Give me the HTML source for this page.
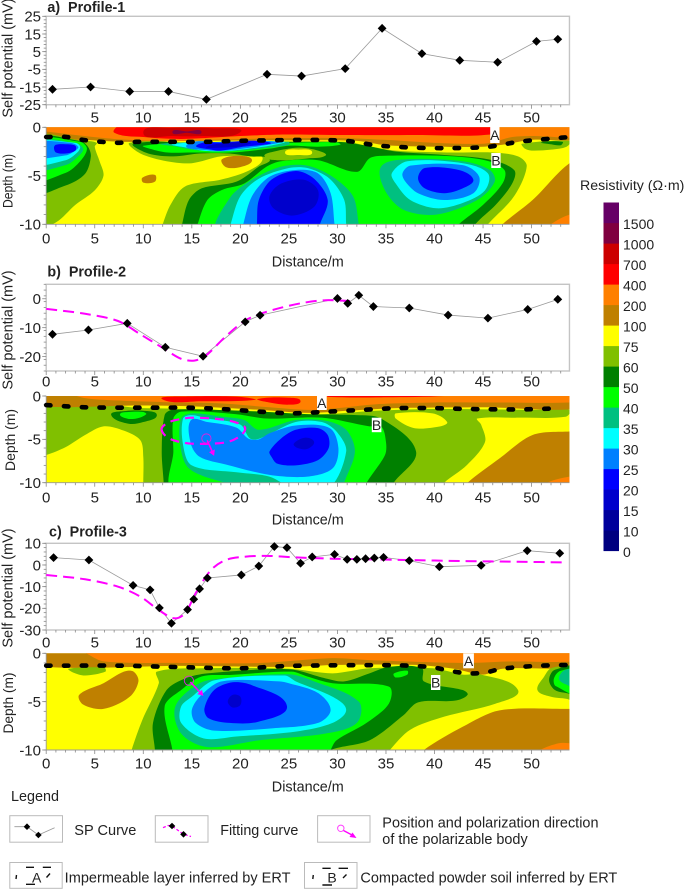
<!DOCTYPE html>
<html lang="en">
<head>
<meta charset="utf-8">
<title>Self potential and resistivity profiles</title>
<style>
html,body{margin:0;padding:0;background:#fff;}
body{width:685px;height:889px;overflow:hidden;}
svg{display:block;}
text{font-family:"Liberation Sans","DejaVu Sans",sans-serif;fill:#222;}
</style>
</head>
<body>
<svg id="figure" xmlns="http://www.w3.org/2000/svg" width="685" height="889" viewBox="0 0 685 889">
  <g id="charts"></g>
  <g id="colorbar"></g>
  <g>
    <text x="11" y="801" font-size="14.5" textLength="48" lengthAdjust="spacingAndGlyphs">Legend</text>
    <rect x="9.8" y="815.7" width="52.7" height="26.5" fill="#fff" stroke="#bbb"/>
    <polyline points="14.4,826.7 27,826.7 38.4,835 54.6,827.7" fill="none" stroke="#999" stroke-width="0.8"/>
    <polygon points="27,823.4 30.3,826.7 27,830 23.7,826.7" fill="#000"/>
    <polygon points="38.4,831.7 41.7,835 38.4,838.3 35.1,835" fill="#000"/>
    <text x="74.3" y="835" font-size="14.5" textLength="62" lengthAdjust="spacingAndGlyphs">SP Curve</text>
    <rect x="155.3" y="815.7" width="52.7" height="26.5" fill="#fff" stroke="#bbb"/>
    <polyline points="163,827.7 168,825.5 172,826 183.5,834.3 191,836.5" fill="none" stroke="#ff00ff" stroke-width="1.3" stroke-dasharray="3 2"/>
    <polygon points="172,822.7 175.3,826 172,829.3 168.7,826" fill="#000"/>
    <polygon points="183.5,831 186.8,834.3 183.5,837.6 180.2,834.3" fill="#000"/>
    <text x="220.2" y="835" font-size="14.5" textLength="78.2" lengthAdjust="spacingAndGlyphs">Fitting curve</text>
    <rect x="317.6" y="815.7" width="52.4" height="26.5" fill="#fff" stroke="#bbb"/>
    <circle cx="340.8" cy="828.3" r="3.2" fill="none" stroke="#ff40ff" stroke-width="1"/>
    <line x1="343.5" y1="830.5" x2="352" y2="835" stroke="#ff00ff" stroke-width="1.3"/>
    <polygon points="356.5,838 349.5,837 352.5,832.5" fill="#ff00ff"/>
    <text x="382.3" y="827.5" font-size="14.5" textLength="216.2" lengthAdjust="spacingAndGlyphs">Position and polarization direction</text>
    <text x="382.3" y="844" font-size="14.5" textLength="145.4" lengthAdjust="spacingAndGlyphs">of the polarizable body</text>
    <rect x="9.8" y="862.5" width="52.4" height="25.8" fill="#fff" stroke="#bbb"/>
    <path d="M16.5 875 L16 879 M26 867.3 L34 867.3 M42.8 867.3 L51 867.3 M46.5 877.5 L50 873.5 M26 884.3 L35 884.3" fill="none" stroke="#111" stroke-width="1.4"/>
    <text x="36.7" y="882.5" font-size="14" text-anchor="middle">A</text>
    <text x="64.7" y="882.5" font-size="14.5" textLength="225.8" lengthAdjust="spacingAndGlyphs">Impermeable layer inferred by ERT</text>
    <rect x="304.5" y="862.5" width="52.5" height="25.8" fill="#fff" stroke="#bbb"/>
    <path d="M313.3 875 L312.8 879 M322.4 868.3 L330.7 868.3 M338.6 868.3 L348 868.3 M343 878 L346.5 874.5 M322.4 885 L332 885" fill="none" stroke="#111" stroke-width="1.4"/>
    <text x="332" y="882.5" font-size="14" text-anchor="middle">B</text>
    <text x="360.4" y="882.5" font-size="14.5" textLength="256.9" lengthAdjust="spacingAndGlyphs">Compacted powder soil inferred by ERT</text>
  </g>
</svg>
<script>
/* ---------- shared scale data ---------- */
const bandLevels = [0,10,15,20,25,30,35,40,50,60,75,100,200,400,700,1000,1500];
const bandColors = ['#000080','#00009c','#0000cc','#0000ff','#0080ff','#00ffff','#00c080','#00ff00','#008000','#80c000','#ffff00','#bf8000','#ff8000','#ff0000','#cc0000','#800040','#660066'];
const xTickLabels = [0,5,10,15,20,25,30,35,40,45,50];
const depthTickLabels = [0,-5,-10];

/* ---------- self potential series ---------- */
const spDistA = [0.65,4.57,8.6,12.6,16.5,22.75,26.3,30.8,34.6,38.7,42.6,46.5,50.5,52.7];
const spValsA = [-16.3,-15,-17.5,-17.5,-22,-7.8,-8.8,-4.6,18.2,3.9,0.1,-1,10.8,12];
const spTicksA = [25,15,5,-5,-15,-25];

const spDistB = [0.65,4.35,8.35,12.27,16.16,20.5,22.03,30,31.06,32.2,33.7,37.4,41.4,45.5,49.6,52.7];
const spValsB = [-12.3,-10.8,-8.5,-16.8,-19.9,-8,-5.7,0.1,-1.6,1.2,-2.7,-3.2,-5.65,-6.7,-3.7,-0.2];
const fitDistB = [0,4,7.4,9.7,12,13.9,15.25,16.4,18.5,20.4,21.9,24.2,26.5,28.8,31.3];
const fitValsB = [-3.5,-5.2,-7.7,-12.3,-17,-20.8,-21.4,-19.8,-13,-7.7,-5.4,-3.1,-1.4,-0.5,-0.8];
const spTicksB = [0,-10,-20];

const spDistC = [0.76,4.4,8.95,10.7,11.66,12.9,14.56,15.2,15.8,16.6,20.1,21.9,23.5,24.8,26.2,27.4,29.7,31,32,32.9,33.8,34.75,37.4,40.5,44.8,49.55,52.9];
const spValsC = [3.4,2.3,-9.4,-11.5,-19.8,-26.9,-20.6,-15.8,-11,-6,-4.6,-0.5,8.5,8,0.8,3.7,4.9,2.6,2.6,2.9,3.2,3.5,2,-0.8,-0.2,6.6,5.4];
const fitDistC = [0,4,7.4,9.7,11.6,13.2,14.3,15.4,17,18.5,20.4,22.7,25.7,29.5,33.3,37.2,42.9,48.6,53.2];
const fitValsC = [-4.6,-6.6,-10,-14.6,-20.8,-24.6,-22.3,-13,-2.2,2.3,3.8,4.2,3.5,2.9,2.6,2.3,1.8,1.5,1.2];
const spTicksC = [10,0,-10,-20,-30];

/* ---------- resistivity contours: [band lower bound, [[distance m, depth m], ...]] ---------- */
const ertA = [
 [100,[[-2,-1],[56,-1],[56,1.05],[50,1.3],[47,1.8],[45,2],[40,2],[35,1.85],[32,1.4],[25,1.35],[15,1.4],[8,1.5],[4,1.3],[-2,1.05]]],
 [200,[[-2,-1],[56,-1],[56,0.8],[50,0.9],[48,1],[46.5,1.4],[45,1.7],[40,1.6],[35,1.3],[30,1.1],[20,1.2],[12,1.4],[7,1.2],[3,0.8],[0,0.45],[-2,0.4]]],
 [400,[[7,0.55],[7.8,-0.3],[46,-0.3],[46,0.7],[38,0.8],[30,0.8],[24,0.75],[20,0.9],[14,1.2],[10,1]]],
 [700,[[10,0.55],[13,0.05],[17,0.1],[20,0.5],[16,0.9],[13,0.9]]],
 [1000,[[13,0.5],[14.5,0.42],[16,0.5],[14.5,0.56]]],
 [60,[[-2,10.8],[1,9.8],[3,8],[5,6.5],[5.9,5],[5.5,3.5],[5,2],[5.2,1.6],[4,1.4],[-2,1.3]]],
 [50,[[-2,6.7],[2,6],[4,4.8],[4.6,3],[4.3,2],[3.5,1.4],[-2,1.3]]],
 [40,[[-2,5.4],[2,4.7],[3.5,3.5],[4.2,2.2],[3.5,1.5],[-2,1.4]]],
 [35,[[-2,4.3],[2,3.9],[3.3,3],[3.8,2.2],[3,1.6],[-2,1.5]]],
 [30,[[-2,3.8],[2,3.4],[3.2,2.6],[3.5,2],[3,1.6],[-2,1.6]]],
 [25,[[-2,3.1],[2,2.9],[3,2.4],[3.3,2],[2.5,1.6],[-2,1.6]]],
 [20,[[0.8,2.1],[1,2.6],[2,2.7],[3,2.4],[3,1.9],[2,1.75],[1,1.8]]],
 [60,[[8.6,1.6],[15,1.6],[25,1.6],[31,1.5],[33,1.9],[36,2.4],[42,2.6],[46,2.6],[48.6,3],[49.5,4],[48.2,7.1],[45.5,10],[45,10.8],[11.8,10.8],[12,10],[12.8,8],[14.3,6.1],[18,5.4],[21,4.4],[22.3,3.2],[21,3],[18,3],[15,3.7],[12.4,3.5],[9.7,2.7]]],
 [50,[[9,1.7],[15,1.6],[30,1.5],[33,1.9],[36,2.5],[41,2.85],[45.5,3.3],[48.2,4.4],[48,5.8],[46.3,8],[44.2,10],[44,10.8],[13.9,10.8],[14,10],[14.7,7.5],[16,6.3],[19.6,5.6],[21.9,4.05],[23,3.3],[21,3],[18.9,2.7],[15.8,2.7],[13.1,3],[10.5,2.7]]],
 [40,[[15.5,10.8],[15.6,10],[16.6,7.5],[18.1,6.46],[20.4,5.8],[22.7,4.05],[24.2,3.5],[28,3.4],[32,4.6],[33.3,3.2],[34.5,2.95],[41,2.95],[45.2,3.4],[47.2,4.4],[47,5.8],[45,8],[42.5,10],[42,10.8]]],
 [60,[[22.5,3],[23.5,2.5],[26,2.1],[28,2.4],[28.8,2.9],[27,3.2],[24,3.4]]],
 [100,[[18.1,3.3],[20,2.95],[21.2,3.4],[20,4.1],[18.5,4.1]]],
 [100,[[9.9,5.2],[11.2,4.9],[11.2,5.6],[10,5.7]]],
 [75,[[24.6,2.6],[26,2.3],[27.4,2.6],[26,2.85]]],
 [40,[[10,1.9],[15,1.6],[25,1.6],[30,1.55],[30.3,1.8],[28,2],[25,1.9],[23,2.2],[19,2.6],[15,2.6],[12.5,2.6],[11,2.3]]],
 [35,[[11.8,1.7],[18,1.5],[25,1.5],[25,1.8],[22,2.2],[18,2.5],[15,2.3],[13.5,2]]],
 [30,[[13,1.75],[18,1.5],[24.5,1.5],[23,1.9],[19,2.4],[16.5,2.45],[14.5,2.1]]],
 [25,[[14.5,1.8],[18,1.55],[24,1.5],[22,1.95],[18.5,2.4],[17,2.4]]],
 [20,[[15.5,1.85],[18,1.55],[23,1.55],[20,2.05],[18,2.4],[17,2.3]]],
 [15,[[16.5,2],[19,1.6],[21,1.7],[18,2.1]]],
 [35,[[17.7,10.8],[18.9,7.3],[21.2,5.4],[24.2,4.05],[26.9,3.95],[29.5,5.1],[31.6,7.1],[32.2,10],[32.3,10.8]]],
 [30,[[18.9,10.8],[19,10],[20,7.1],[21.9,5.3],[25,4.2],[26.9,4.2],[29.2,5.3],[30.7,7.5],[30.9,10],[31,10.8]]],
 [25,[[20.2,10.8],[20.3,10],[21.2,7.1],[23,5.1],[25.7,4.4],[28,4.75],[29.3,6.8],[29.7,10],[29.8,10.8]]],
 [20,[[21.6,10.8],[21.7,10],[21.9,7.5],[23.2,5.4],[25.7,4.5],[27.6,5.3],[29,7.5],[28.2,10],[28,10.8]]],
 [15,[[23,7.1],[24.2,5.8],[26.5,5.4],[28,6.5],[27.6,8.2],[25.3,9.1],[23.4,8.35]]],
 [35,[[34.5,4.05],[37.2,3.3],[42.9,3.5],[45.7,4.4],[46.2,5.6],[44.4,7.5],[40.2,9],[36.8,8.5],[34.9,6.5]]],
 [30,[[35.6,4.75],[37.2,3.5],[42.9,3.7],[45.5,4.75],[45.2,6.5],[42.9,7.8],[40.2,8.35],[37.5,7.5],[36,5.8]]],
 [25,[[36.7,4.75],[37.5,3.95],[42.9,3.9],[44.6,5.1],[44,6.8],[41,7.5],[38.3,6.8],[37,5.6]]],
 [20,[[38.3,5.25],[39,4.2],[42.5,4.4],[44,5.4],[42.9,6.3],[41,6.8],[39,6.3]]],
 [100,[[46.5,10.8],[47,10],[50.1,7.5],[53.9,3.7],[56,3.2],[56,10.8]]],
 [200,[[51.5,10.8],[52,10],[53.9,9],[56,8.7],[56,10.8]]],
 [60,[[49,1.7],[54,1.4],[53.6,2],[52,2.3],[50,2.4],[49.3,2.2]]],
 [50,[[51,1.55],[53.2,1.5],[53,1.85],[52,1.75]]]
];
const ertB = [
 [60,[[-2,1.4],[10,1.4],[20,1.7],[28,2.1],[34,1.7],[40,1.5],[50,1.6],[54,1.6],[53.5,2.4],[48.6,2.5],[44.4,2.6],[44.8,3.3],[45.2,5.3],[43.3,8],[41,10],[40.7,10.8],[-2,10.8]]],
 [100,[[-2,-1],[56,-1],[56,1.3],[45,1.3],[36,1.4],[31,1.7],[27,1.95],[22,1.6],[15,1.2],[10,1.1],[-2,1]]],
 [200,[[2.5,-0.4],[4,0.25],[8,0.55],[12,0.7],[18,0.85],[23,1.3],[27,1.6],[30,1.4],[34,0.95],[40,0.75],[46,0.75],[56,0.6],[56,-0.4]]],
 [400,[[12,0.4],[15,0.05],[20,0.1],[21.5,0.45],[16,0.6]]],
 [400,[[21.8,0.35],[25,0.2],[26.2,0.6],[25,1],[23,0.75]]],
 [400,[[29,-0.2],[41,-0.2],[41,0],[35,0.15],[29,0.1]]],
 [75,[[-2,7.2],[0,6.8],[2,5.9],[4,4.5],[5.9,3.5],[8,4],[9.7,5.1],[10,7],[10,10],[10,10.8],[-2,10.8]]],
 [50,[[6.7,2.2],[8,1.75],[10,1.7],[11.4,2.2],[10,3],[8.5,3.2]]],
 [40,[[7.6,2.1],[8.5,1.85],[10,1.85],[10.3,2.1],[9.3,2.6],[8.3,2.6]]],
 [50,[[12.2,2.2],[13,1.6],[20,1.7],[27,2.1],[32,2.2],[34.5,2.6],[38.1,6.4],[35.8,10],[35.6,10.8],[12.1,10.8],[12.1,10],[11.9,6.4]]],
 [40,[[13.1,10.8],[13.1,6.4],[13.1,2.6],[13.9,1.8],[19.6,2.1],[22.7,2.6],[28.4,2.5],[33.3,3.5],[34.5,3.5],[35,5.3],[34.9,6.8],[33,10],[32.8,10.8]]],
 [35,[[13.9,2.6],[13.8,5.65],[14.7,8.35],[18.1,9.9],[22,10.8],[30.5,10.8],[30.7,10],[31.8,6.4],[30.9,3.9],[28.8,2.85],[25.7,2.77],[21.9,3.9],[20.4,2.77],[18.1,2.4],[15,2]]],
 [30,[[14.1,2.6],[14.1,5.65],[15,8],[19.6,8.8],[23,9.3],[25.7,10.8],[29,10.8],[30.9,6.4],[29.9,4.1],[28.4,3],[25.7,3],[22,4.9],[21,4.9],[20,3.3],[16.6,2.6],[15,2.2]]],
 [25,[[14.9,2.8],[14.9,5.5],[15.8,7],[18.5,7.9],[23,9.1],[26.9,9.3],[29.5,8.35],[30.1,6],[29.2,3.7],[25.7,3.4],[23,4.3],[21.9,5],[20.8,4.9],[19.6,3.65],[16.6,3]]],
 [20,[[23,6.4],[24.2,4.9],[25.7,3.9],[28,3.7],[29,4.5],[29.1,6],[28,7.4],[25.7,8],[23.8,7.8],[23.2,7]]],
 [15,[[25.5,5.5],[26.7,4.8],[27.6,5.3],[26.9,6.1],[25.9,6]]],
 [75,[[36,2],[39.8,2],[41.3,3],[40.6,3.5],[37.9,3.7],[36,2.6]]],
 [100,[[43,10.8],[43.4,10],[46.7,7.2],[50.1,4.5],[53.9,4.1],[56,4.1],[56,10.8]]],
 [200,[[51,10.8],[51.6,10],[53.9,9.3],[56,9.2],[56,10.8]]]
];
const ertC = [
 [100,[[-2,-1],[56,-1],[56,1.2],[47,1.6],[45,2.2],[42,1.6],[38,1.2],[30,1.2],[25,1.4],[14,1.3],[-2,1.2]]],
 [200,[[3.8,-0.4],[4.3,0.1],[6,0.85],[14,1],[22,1],[29.5,0.5],[33.3,0.7],[43,1],[47.5,0.85],[56,0.7],[56,-0.4]]],
 [60,[[2.3,1.6],[6,1.5],[6.1,1.9],[4,2.3],[2.8,2]]],
 [100,[[3.4,4.3],[5.9,3.1],[8,1.9],[9,1.9],[9.5,2.9],[8.6,4.5],[5.9,5.75],[3.8,5.3]]],
 [60,[[8.7,10.8],[8.8,10],[9.9,6.9],[11.6,3.1],[11.4,1.9],[16.2,1.55],[25,1.6],[29.5,2.07],[33.3,1.55],[39.8,1.55],[42.9,2.2],[44.8,2.2],[48.6,3.8],[46.3,5.2],[41,6.55],[37.5,7.9],[35.4,10],[35,10.8]]],
 [50,[[11.2,10.8],[11.2,10],[11,7.2],[12.4,3.8],[14.3,2.6],[16.6,2.07],[25,1.65],[28.8,2.6],[30.7,2.9],[33.3,2.07],[35.3,1.4],[38.7,1.55],[38.9,2.9],[42.9,3.8],[43.4,4.3],[42.1,4.9],[38.3,5.07],[36.8,6.4],[33.3,9],[29.3,10],[29,10.8]]],
 [40,[[13,10.8],[13,10],[12.2,5.5],[13.9,3.8],[16,2.4],[18.9,2.24],[25.3,1.9],[26.9,2.4],[29.5,3.1],[35.3,3.45],[35.3,5.2],[33,7.2],[29.9,9],[29.3,10],[29,10.8]]],
 [40,[[35.8,2.1],[37.2,1.8],[37.2,2.2],[36,2.5]]],
 [35,[[13.3,5.5],[15.8,3.1],[18.1,2.6],[25,2.17],[27.6,2.9],[32.2,5],[32,7.2],[28.8,8.3],[21.9,9],[16.6,9.7],[13.9,8.3]]],
 [30,[[13.9,5.5],[15,4.5],[17.3,2.8],[24.6,2.3],[25.7,2.9],[29.5,4.5],[30.9,5.85],[29.5,7.2],[25.7,8.1],[19.6,8.6],[16.2,8.8],[13.9,7.2]]],
 [25,[[15,5.85],[16,4.3],[18.1,2.9],[24,2.9],[25,3.1],[28,4.1],[29.3,5.85],[28,7.2],[23.4,7.75],[17.3,8],[15.4,7.2]]],
 [20,[[16.3,5.7],[17.3,3.8],[19.2,3],[21.2,3.3],[24.8,5.45],[21.9,7.07],[18.9,7.2],[16.7,6.7]]],
 [15,[[18.7,5],[19.2,4.3],[20,4.5],[20,5.35],[19.2,5.6]]],
 [60,[[50.6,3.8],[51.3,2.4],[52,1.55],[53.9,1.3],[56,1.3],[56,6],[53.9,4.8],[52,4.5]]],
 [50,[[51.8,2.76],[52.4,1.7],[56,1.4],[56,5],[53.9,4.2],[52.4,3.8]]],
 [40,[[52.3,2.6],[53,1.8],[56,1.7],[56,4.5],[52.5,3.4]]],
 [35,[[52.8,2.6],[53.5,1.7],[56,1.7],[56,4],[53.5,3.2]]],
 [100,[[38.5,10.8],[38.9,10],[42.9,7.6],[46.7,5.9],[53.9,5.75],[56,5.75],[56,10.8]]],
 [200,[[50.3,10.8],[50.9,10],[52.8,9.3],[53.9,9.3],[56,9.3],[56,10.8]]]
];

/* ---------- interpreted layer boundaries ---------- */
const layerDistA = [0,2.1,3.8,5.7,7.4,9.3,16.6,19.6,27.3,30.9,32.6,34.3,38,41.4,45.2,46.9,48.6,50.5,52.2,53.9];
const layerDepthA = [1,1,1.3,1.5,1.6,1.5,1.5,1.4,1.3,1.4,1.65,1.9,2.1,2.15,2.05,1.8,1.5,1.3,1.15,1];
const layerDistB = [0,4,9.3,14.7,18.1,21.9,25.3,29.1,32.6,36.2,39.8,43.4,48.6,52.4];
const layerDepthB = [1.05,1.3,1.35,1.35,1.5,1.8,2,1.8,1.6,1.4,1.4,1.5,1.55,1.45];
const layerDistC = [0,7.4,14.7,20,25.3,36.2,39.8,41.5,43.4,45.2,46.9,50.5,53.9];
const layerDepthC = [1.28,1.28,1.45,1.55,1.3,1.24,1.45,1.8,2.07,2,1.6,1.3,1.2];

/* ---------- polarizable bodies ---------- */
const bodyOutlineB = [[11.9,3.7],[12.2,4.5],[13.1,5.1],[15,5.5],[18.5,5.35],[20,4.6],[20.5,3.7],[19.8,3.15],[18.1,2.7],[15,2.5],[13.9,2.65],[12.8,2.95]];
const bodyStartB = [16.5,4.9];
const bodyEndB = [17.3,6.9];
const bodyStartC = [14.7,2.83];
const bodyEndC = [16.2,4.4];

/* ---------- axis geometry ---------- */
const X_LEFT = 46.2;
const PX_PER_M = 9.708;
const X_MAX = 53.9;
const TICK_FONT = 15;
const NS = 'http://www.w3.org/2000/svg';
const root = document.getElementById('charts');
function xScale(d){ return X_LEFT + d * PX_PER_M; }
function linear(v0, v1, p0, p1){ return v => p0 + (v - v0) / (v1 - v0) * (p1 - p0); }
function make(tag, parent, attrs, txt){
  const el = document.createElementNS(NS, tag);
  for (const k in attrs) el.setAttribute(k, attrs[k]);
  if (txt !== undefined) el.textContent = txt;
  parent.appendChild(el);
  return el;
}
function bandColor(level){ return bandColors[bandLevels.indexOf(level)]; }
function smoothPath(pts, closed){
  const n = pts.length;
  const at = i => closed ? pts[(i + n) % n] : pts[Math.max(0, Math.min(n - 1, i))];
  const last = closed ? n : n - 1;
  let d = 'M' + pts[0][0].toFixed(2) + ' ' + pts[0][1].toFixed(2);
  for (let i = 0; i < last; i++){
    const p0 = at(i - 1), p1 = at(i), p2 = at(i + 1), p3 = at(i + 2);
    const len = Math.hypot(p2[0] - p1[0], p2[1] - p1[1]);
    const t1 = [p2[0] - p0[0], p2[1] - p0[1]], t2 = [p3[0] - p1[0], p3[1] - p1[1]];
    const l1 = Math.hypot(t1[0], t1[1]) || 1, l2 = Math.hypot(t2[0], t2[1]) || 1;
    const c1 = [p1[0] + t1[0] / l1 * len * 0.3, p1[1] + t1[1] / l1 * len * 0.3];
    const c2 = [p2[0] - t2[0] / l2 * len * 0.3, p2[1] - t2[1] / l2 * len * 0.3];
    d += ' C' + c1[0].toFixed(2) + ' ' + c1[1].toFixed(2) + ' ' + c2[0].toFixed(2) + ' ' + c2[1].toFixed(2) + ' ' + p2[0].toFixed(2) + ' ' + p2[1].toFixed(2);
  }
  return d + (closed ? 'Z' : '');
}
function zip(xs, ys, fx, fy){ return xs.map((x, i) => [fx(x), fy(ys[i])]); }
function bottomTicks(g, y, labels, labelY){
  for (let d = 0; d <= 53; d++){
    const major = d % 5 === 0;
    const t = make('line', g, {x1:xScale(d), x2:xScale(d), y1:y, y2:y + (major ? 4 : 2.5), stroke:'#888', 'stroke-width':0.8});
    
    
  }
  labels.forEach(v => {
    const t = make('text', g, {x:xScale(v), y:labelY + 5.3, 'font-size':TICK_FONT, 'text-anchor':'middle'}, String(v));
    
    
  });
}
function leftTicks(g, fy, labels, step, vMin, vMax){
  for (let v = vMin; v <= vMax + 0.001; v += step){
    const t = make('line', g, {x1:X_LEFT - 2.5, x2:X_LEFT, y1:fy(v), y2:fy(v), stroke:'#888', 'stroke-width':0.8});
    
    
  }
  labels.forEach(v => {
    const m = make('line', g, {x1:X_LEFT - 4, x2:X_LEFT, y1:fy(v), y2:fy(v), stroke:'#888', 'stroke-width':0.8});
    
    
    const t = make('text', g, {x:41, y:fy(v) + 5.3, 'font-size':TICK_FONT, 'text-anchor':'end'}, String(v));
    
    
  });
}
function rotated(g, text, cx, cy, size, length){
  const attrs = {x:cx, y:cy, 'font-size':size, 'text-anchor':'middle', transform:'rotate(-90 ' + cx + ' ' + cy + ')'};
  if (length) {
    attrs.textLength = length;
    attrs.lengthAdjust = 'spacingAndGlyphs';
  }
  return make('text', g, attrs, text);
}
function drawSP(cfg){
  const g = make('g', root, {});
  
  
  const fy = linear(cfg.max, cfg.min, cfg.top, cfg.bottom);
  const title = make('text', g, {x:cfg.titleX, y:cfg.titleY, 'font-size':14.3, 'font-weight':'bold', style:'white-space:pre'}, cfg.title);
  
  
  const box = make('rect', g, {x:X_LEFT, y:cfg.top, width:xScale(X_MAX) - X_LEFT, height:cfg.bottom - cfg.top, fill:'#fff', stroke:'#c4c4c4', 'stroke-width':1.4});
  
  
  const label = rotated(g, 'Self potential (mV)', 12.5, cfg.labelY, 14.5);
  
  
  bottomTicks(g, cfg.bottom, cfg.xLabels, cfg.xLabelY);
  leftTicks(g, fy, cfg.ticks, cfg.minor, cfg.min, cfg.max);
  const line = make('polyline', g, {points:zip(cfg.dist, cfg.vals, xScale, fy).map(p => p.join(',')).join(' '), fill:'none', stroke:'#999', 'stroke-width':0.8});
  
  
  if (cfg.fitDist){
    const fit = make('path', g, {d:smoothPath(zip(cfg.fitDist, cfg.fitVals, xScale, fy), false), fill:'none', stroke:'#ff00ff', 'stroke-width':2, 'stroke-dasharray':'11 6'});
    
    
  }
  cfg.dist.forEach((d, i) => {
    const x = xScale(d), y = fy(cfg.vals[i]), r = 4.4;
    const p = make('polygon', g, {points:[x, y - r, x + r, y, x, y + r, x - r, y].join(' '), fill:'#000'});
    
    
  });
}
function drawERT(cfg){
  const g = make('g', root, {});
  
  
  const fy = linear(0, 10, cfg.top, cfg.bottom);
  const right = xScale(X_MAX);
  const clip = make('clipPath', g, {id:cfg.clip});
  make('rect', clip, {x:X_LEFT, y:cfg.top, width:right - X_LEFT, height:cfg.bottom - cfg.top});
  const field = make('g', g, {'clip-path':'url(#' + cfg.clip + ')'});
  
  
  const bg = make('rect', field, {x:X_LEFT, y:cfg.top, width:right - X_LEFT, height:cfg.bottom - cfg.top, fill:bandColor(75)});
  
  
  cfg.contours.forEach(c => {
    const pts = c[1].map(p => [xScale(p[0]), fy(p[1])]);
    const s = make('path', field, {d:smoothPath(pts, true), fill:bandColor(c[0])});
    
    
  });
  const axes = make('path', g, {d:'M' + X_LEFT + ' ' + cfg.top + ' V' + cfg.bottom + ' H' + right, fill:'none', stroke:'#999', 'stroke-width':0.9});
  
  
  bottomTicks(g, cfg.bottom, xTickLabels, cfg.xLabelY);
  const fyNeg = v => fy(-v);
  leftTicks(g, fyNeg, depthTickLabels, 1, -10, 0);
  const ylab = rotated(g, 'Depth (m)', cfg.depthX, cfg.depthY, 14, cfg.depthLen);
  
  
  const xlab = make('text', g, {x:307.8, y:cfg.distY, 'font-size':14.4, 'text-anchor':'middle'}, 'Distance/m');
  
  
  const layer = make('path', g, {d:smoothPath(zip(cfg.layerDist, cfg.layerDepth, xScale, fy), false), fill:'none', stroke:'#000', 'stroke-width':4.6, 'stroke-linecap':'round', 'stroke-dasharray':'4.4 13.4'});
  
  
  if (cfg.outline){
    const o = make('path', g, {d:smoothPath(cfg.outline.map(p => [xScale(p[0]), fy(p[1])]), true), fill:'none', stroke:'#ff00ff', 'stroke-width':2.2, 'stroke-dasharray':'9 6'});
    
    
  }
  if (cfg.bodyStart){
    const sx = xScale(cfg.bodyStart[0]), sy = fy(cfg.bodyStart[1]);
    const ex = xScale(cfg.bodyEnd[0]), ey = fy(cfg.bodyEnd[1]);
    const circ = make('circle', g, {cx:sx, cy:sy, r:4.6, fill:'none', stroke:'#e020e0', 'stroke-width':0.9});
    
    
    const ang = Math.atan2(ey - sy, ex - sx);
    const bx = ex - 5.5 * Math.cos(ang), by = ey - 5.5 * Math.sin(ang);
    const shaft = make('line', g, {x1:sx + 2 * Math.cos(ang), y1:sy + 2 * Math.sin(ang), x2:bx, y2:by, stroke:'#ff00ff', 'stroke-width':1.6});
    
    
    const nx = -Math.sin(ang) * 3.2, ny = Math.cos(ang) * 3.2;
    const head = make('polygon', g, {points:[ex, ey, bx + nx, by + ny, bx - nx, by - ny].join(' '), fill:'#ff00ff'});
    
    
  }
  cfg.tags.forEach(tag => {
    const r = make('rect', g, {x:tag[1], y:tag[2], width:tag[3], height:tag[4], fill:'#fff'});
    
    
    const t = make('text', g, {x:tag[1] + tag[3] / 2, y:tag[2] + tag[4] / 2 + 5, 'font-size':14, 'text-anchor':'middle'}, tag[0]);
    
    
  });
}

drawSP({name:'sp-panel-profile-1', title:'a)  Profile-1', titleX:47.4, titleY:12, top:16.3, bottom:104.7, max:25, min:-25, minor:2, ticks:spTicksA, dist:spDistA, vals:spValsA, xLabels:xTickLabels.slice(1), xLabelY:117, labelY:58});
drawERT({name:'ert-panel-profile-1', clip:'clipA', top:127.3, bottom:224.3, contours:ertA, layerDist:layerDistA, layerDepth:layerDepthA, xLabelY:238, depthX:12.5, depthY:181, depthLen:54, distY:266.5, tags:[['A',490.2,127,9.3,16],['B',491.3,153,9.3,15]]});
drawSP({name:'sp-panel-profile-2', title:'b)  Profile-2', titleX:47.4, titleY:276.5, top:284.3, bottom:371, max:5, min:-25, minor:2, ticks:spTicksB, dist:spDistB, vals:spValsB, fitDist:fitDistB, fitVals:fitValsB, xLabels:xTickLabels, xLabelY:381, labelY:330});
drawERT({name:'ert-panel-profile-2', clip:'clipB', top:396, bottom:482.7, contours:ertB, layerDist:layerDistB, layerDepth:layerDepthB, outline:bodyOutlineB, bodyStart:bodyStartB, bodyEnd:bodyEndB, xLabelY:497, depthX:15, depthY:440, depthLen:62, distY:524.5, tags:[['A',317,396,9.7,14],['B',371.8,417.7,9.6,14.5]]});
drawSP({name:'sp-panel-profile-3', title:'c)  Profile-3', titleX:49, titleY:536.5, top:543.3, bottom:630, max:10, min:-30, minor:2, ticks:spTicksC, dist:spDistC, vals:spValsC, fitDist:fitDistC, fitVals:fitValsC, xLabels:xTickLabels, xLabelY:642, labelY:588});
drawERT({name:'ert-panel-profile-3', clip:'clipC', top:653.3, bottom:750, contours:ertC, layerDist:layerDistC, layerDepth:layerDepthC, bodyStart:bodyStartC, bodyEnd:bodyEndC, xLabelY:763, depthX:13, depthY:703, depthLen:61, distY:791.5, tags:[['A',463.2,653.3,10.7,15],['B',431,675,9.3,15]]});

/* ---------- colour scale ---------- */
const cb = document.getElementById('colorbar');
const cbTitle = make('text', cb, {x:580, y:189.8, 'font-size':14.2}, 'Resistivity (Ω·m)');


bandLevels.forEach((lvl, i) => {
  const seg = make('rect', cb, {x:603.5, y:551 - (i + 1) * 20.5, width:15.5, height:20.6, fill:bandColors[i]});
  
  
  const t = make('text', cb, {x:623, y:552 - i * 20.5 + 5, 'font-size':14}, String(lvl));
  
  
});
</script>
</body>
</html>
